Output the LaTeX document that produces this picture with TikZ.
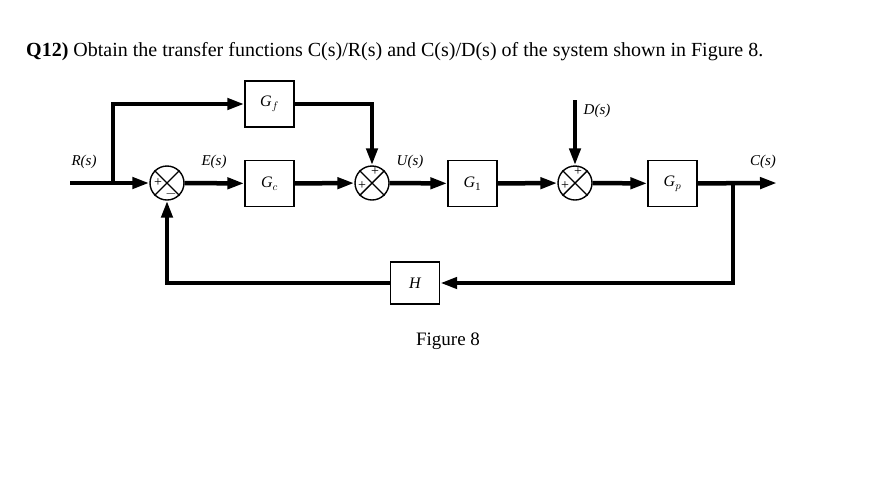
\documentclass[tikz,border=0pt]{standalone}
\usepackage{fontspec}
\setmainfont{Liberation Serif}
\usetikzlibrary{arrows.meta}
\begin{document}
\begin{tikzpicture}[x=1pt,y=-1pt,
 blk/.style={draw,line width=1.4pt,minimum width=49pt,minimum height=46pt,inner sep=0pt,font=\fontsize{16}{16}\selectfont\itshape},
 sum/.style={draw,circle,line width=1.4pt,minimum size=34pt,inner sep=0pt},
 sig/.style={line width=4.5pt,-{Triangle[length=17pt,width=11pt]}},
 wire/.style={line width=4.5pt},
 lab/.style={font=\fontsize{15}{15}\selectfont\itshape,inner sep=0pt},
 pm/.style={font=\fontsize{14}{14}\selectfont,inner sep=0pt}]
\useasboundingbox (0,0) rectangle (877,491);
\node[anchor=west,inner sep=0pt,font=\fontsize{20}{20}\selectfont] (title) at (26,52) {\textbf{Q12)} Obtain the transfer functions C(s)/R(s) and C(s)/D(s) of the system shown in Figure 8.};
\node[blk] (gf) at (269.5,104) {G$_{f}$};
\node[blk] (gc) at (269.5,183.5) {G$_c$};
\node[blk] (g1) at (472.5,183.5) {G$_{\mathrm{1}}$};
\node[blk] (gp) at (672.5,183.5) {G$_p$};
\node[blk,minimum height=42pt] (h) at (415,283) {H};
\foreach \n/\x in {s1/167,s2/372,s3/575}{
 \node[sum] (\n) at (\x,183) {};
 \draw[line width=1.4pt] (\n.north west)--(\n.south east) (\n.north east)--(\n.south west);}
\node[pm] at (158,183) {+};
\node[pm] at (171,194) {$-$};
\node[pm] at (362,186) {+};
\node[pm] at (375,172) {+};
\node[pm] at (565,186) {+};
\node[pm] at (578,172) {+};
\coordinate (in) at (70,183);
\coordinate (br) at (113,183);
\coordinate (fb) at (733,183);
\coordinate (out) at (777,183);
\coordinate (dtop) at (575,100);
\draw[wire] (in)--(br);
\draw[sig] (br)--(s1);
\draw[sig] (br)--(br|-gf)--(gf);
\draw[sig] (gf)-|(s2);
\draw[sig] (s1)--(gc);
\draw[sig] (gc)--(s2);
\draw[sig] (s2)--(g1);
\draw[sig] (g1)--(s3);
\draw[sig] (dtop)--(s3);
\draw[sig] (s3)--(gp);
\draw[sig] (gp)--(out);
\draw[sig] (fb)|-(h);
\draw[sig] (h)-|(s1);
\node[lab] (r) at (84,162) {R(s)};
\node[lab] (e) at (214,162) {E(s)};
\node[lab] (u) at (410,162) {U(s)};
\node[lab] (d) at (597,111) {D(s)};
\node[lab] (c) at (763,162) {C(s)};
\node[inner sep=0pt,font=\fontsize{19}{19}\selectfont] (fig) at (448,341) {Figure 8};
\end{tikzpicture}
\end{document}
